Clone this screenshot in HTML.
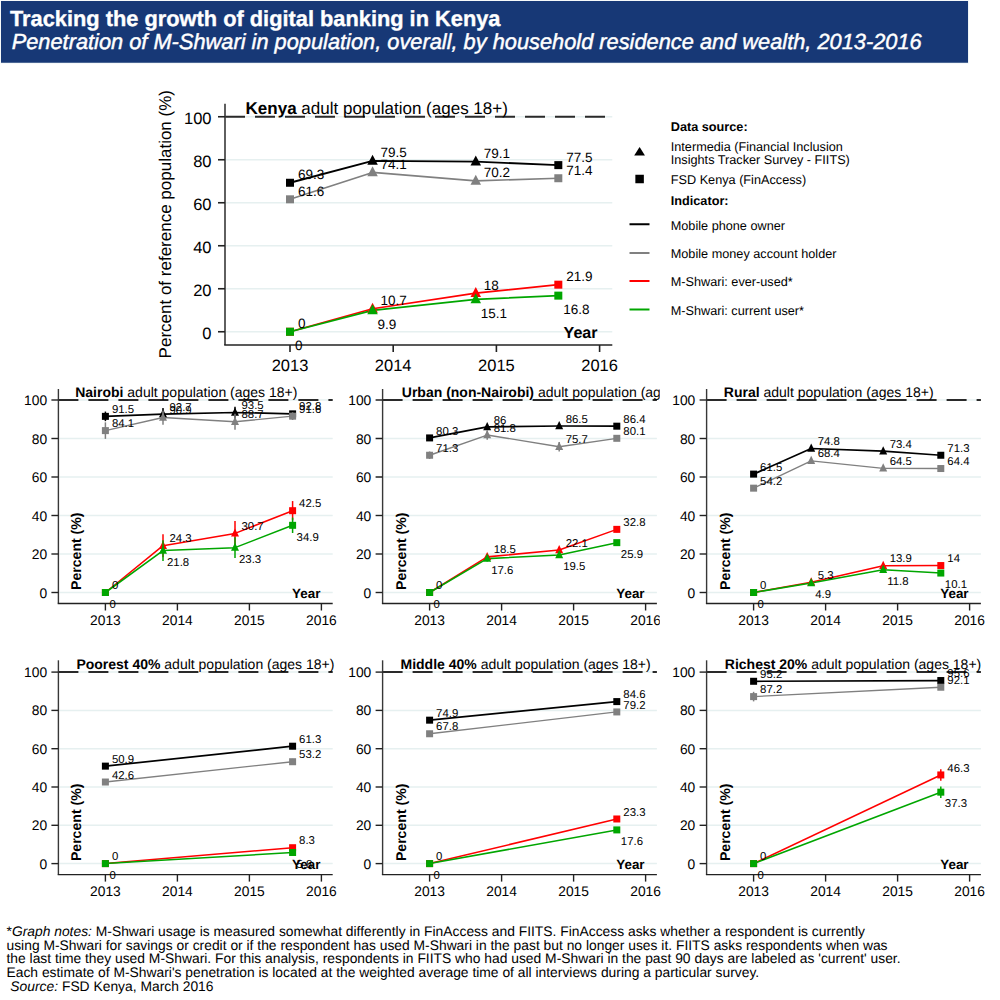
<!DOCTYPE html>
<html><head><meta charset="utf-8"><style>
html,body{margin:0;padding:0;background:#fff;width:1000px;height:1000px;overflow:hidden}
svg{display:block}
text{font-family:"Liberation Sans", sans-serif;text-rendering:geometricPrecision}
</style></head><body>
<svg width="1000" height="1000" viewBox="0 0 1000 1000">
<defs>
<clipPath id="c1"><rect x="0" y="370" width="335" height="270"/></clipPath>
<clipPath id="c2"><rect x="340" y="370" width="319.8" height="270"/></clipPath>
<clipPath id="c3"><rect x="661" y="370" width="339" height="270"/></clipPath>
</defs>

<rect x="0.5" y="0.5" width="968.5" height="63" fill="#eef4f6"/>
<rect x="1" y="1" width="967" height="61.75" fill="#173876"/>
<text x="10" y="26.2" font-size="21.8" font-weight="bold" fill="#fff" stroke="#fff" stroke-width="0.35">Tracking the growth of digital banking in Kenya</text>
<text x="11.7" y="49" font-size="21.8" font-style="italic" fill="#fff" stroke="#fff" stroke-width="0.45">Penetration of M-Shwari in population, overall, by household residence and wealth, 2013-2016</text>

<g><line x1="226" y1="331.75" x2="612.30" y2="331.75" stroke="#e6f0f0" stroke-width="1.5"/>
<line x1="226" y1="288.75" x2="612.30" y2="288.75" stroke="#e6f0f0" stroke-width="1.5"/>
<line x1="226" y1="245.75" x2="612.30" y2="245.75" stroke="#e6f0f0" stroke-width="1.5"/>
<line x1="226" y1="202.75" x2="612.30" y2="202.75" stroke="#e6f0f0" stroke-width="1.5"/>
<line x1="226" y1="159.75" x2="612.30" y2="159.75" stroke="#e6f0f0" stroke-width="1.5"/>
<line x1="226" y1="116.75" x2="612.30" y2="116.75" stroke="#e6f0f0" stroke-width="1.5"/>
<line x1="225" y1="116.75" x2="612.30" y2="116.75" stroke="#2a2a2a" stroke-width="2" stroke-dasharray="20 10"/>
<text x="245.60" y="114.00" font-size="17"><tspan font-weight="bold">Kenya</tspan> adult population (ages 18+)</text>
<line x1="225.00" y1="103.75" x2="225.00" y2="345.00" stroke="#383838" stroke-width="1.6"/>
<line x1="224.20" y1="345.00" x2="612.30" y2="345.00" stroke="#222" stroke-width="1.6"/>
<line x1="218.00" y1="331.75" x2="225.00" y2="331.75" stroke="#222" stroke-width="1.6"/>
<text x="211.50" y="338.55" font-size="16.5" text-anchor="end">0</text>
<line x1="218.00" y1="288.75" x2="225.00" y2="288.75" stroke="#222" stroke-width="1.6"/>
<text x="211.50" y="295.55" font-size="16.5" text-anchor="end">20</text>
<line x1="218.00" y1="245.75" x2="225.00" y2="245.75" stroke="#222" stroke-width="1.6"/>
<text x="211.50" y="252.55" font-size="16.5" text-anchor="end">40</text>
<line x1="218.00" y1="202.75" x2="225.00" y2="202.75" stroke="#222" stroke-width="1.6"/>
<text x="211.50" y="209.55" font-size="16.5" text-anchor="end">60</text>
<line x1="218.00" y1="159.75" x2="225.00" y2="159.75" stroke="#222" stroke-width="1.6"/>
<text x="211.50" y="166.55" font-size="16.5" text-anchor="end">80</text>
<line x1="218.00" y1="116.75" x2="225.00" y2="116.75" stroke="#222" stroke-width="1.6"/>
<text x="211.50" y="123.55" font-size="16.5" text-anchor="end">100</text>
<line x1="290.00" y1="345.00" x2="290.00" y2="352.00" stroke="#222" stroke-width="1.6"/>
<text x="290.00" y="371.20" font-size="16.5" text-anchor="middle">2013</text>
<line x1="393.20" y1="345.00" x2="393.20" y2="352.00" stroke="#222" stroke-width="1.6"/>
<text x="393.20" y="371.20" font-size="16.5" text-anchor="middle">2014</text>
<line x1="496.40" y1="345.00" x2="496.40" y2="352.00" stroke="#222" stroke-width="1.6"/>
<text x="496.40" y="371.20" font-size="16.5" text-anchor="middle">2015</text>
<line x1="599.60" y1="345.00" x2="599.60" y2="352.00" stroke="#222" stroke-width="1.6"/>
<text x="599.60" y="371.20" font-size="16.5" text-anchor="middle">2016</text>
<text x="597.60" y="338.20" font-size="16.1" text-anchor="end" font-weight="bold">Year</text>
<text transform="translate(170.60,358.40) rotate(-90)" font-size="17">Percent of reference population (%)</text>
<polyline points="290.00,182.76 372.56,160.83 475.76,161.69 558.32,165.12" fill="none" stroke="#000" stroke-width="1.85" stroke-linejoin="round"/>
<polyline points="290.00,199.31 372.56,172.44 475.76,180.82 558.32,178.24" fill="none" stroke="#808080" stroke-width="1.7" stroke-linejoin="round"/>
<polyline points="290.00,331.75 372.56,308.75 475.76,293.05 558.32,284.67" fill="none" stroke="#ff0000" stroke-width="1.75" stroke-linejoin="round"/>
<polyline points="290.00,331.75 372.56,310.46 475.76,299.29 558.32,295.63" fill="none" stroke="#00a600" stroke-width="1.75" stroke-linejoin="round"/>
<rect x="286.00" y="178.76" width="8.00" height="8.00" fill="#000"/>
<polygon points="367.31,164.73 377.81,164.73 372.56,154.73" fill="#000"/>
<polygon points="470.51,165.59 481.01,165.59 475.76,155.59" fill="#000"/>
<rect x="554.32" y="161.12" width="8.00" height="8.00" fill="#000"/>
<rect x="286.00" y="195.31" width="8.00" height="8.00" fill="#808080"/>
<polygon points="367.31,176.34 377.81,176.34 372.56,166.34" fill="#808080"/>
<polygon points="470.51,184.72 481.01,184.72 475.76,174.72" fill="#808080"/>
<rect x="554.32" y="174.24" width="8.00" height="8.00" fill="#808080"/>
<rect x="286.00" y="327.75" width="8.00" height="8.00" fill="#ff0000"/>
<polygon points="367.31,312.64 377.81,312.64 372.56,302.64" fill="#ff0000"/>
<polygon points="470.51,296.95 481.01,296.95 475.76,286.95" fill="#ff0000"/>
<rect x="554.32" y="280.67" width="8.00" height="8.00" fill="#ff0000"/>
<rect x="286.00" y="327.75" width="8.00" height="8.00" fill="#00a600"/>
<polygon points="367.31,314.36 377.81,314.36 372.56,304.36" fill="#00a600"/>
<polygon points="470.51,303.19 481.01,303.19 475.76,293.19" fill="#00a600"/>
<rect x="554.32" y="291.63" width="8.00" height="8.00" fill="#00a600"/>
<text x="298.00" y="179.26" font-size="13.5">69.3</text>
<text x="380.56" y="157.33" font-size="13.5">79.5</text>
<text x="483.76" y="158.19" font-size="13.5">79.1</text>
<text x="566.32" y="161.62" font-size="13.5">77.5</text>
<text x="298.00" y="195.81" font-size="13.5">61.6</text>
<text x="380.56" y="168.94" font-size="13.5">74.1</text>
<text x="483.76" y="177.32" font-size="13.5">70.2</text>
<text x="566.32" y="174.74" font-size="13.5">71.4</text>
<text x="298.00" y="328.25" font-size="13.5">0</text>
<text x="380.56" y="305.25" font-size="13.5">10.7</text>
<text x="483.76" y="289.55" font-size="13.5">18</text>
<text x="566.32" y="281.17" font-size="13.5">21.9</text>
<text x="295.00" y="350.25" font-size="13.5">0</text>
<text x="377.56" y="328.96" font-size="13.5">9.9</text>
<text x="480.76" y="317.79" font-size="13.5">15.1</text>
<text x="563.32" y="314.13" font-size="13.5">16.8</text></g>

<text x="670.75" y="130.5" font-size="12.7" font-weight="bold">Data source:</text>
<polygon points="634.2,155.5 644.95,155.5 639.6,147" fill="#000"/>
<text x="670.75" y="150.75" font-size="12.7">Intermedia (Financial Inclusion</text>
<text x="670.75" y="163.75" font-size="12.7">Insights Tracker Survey - FIITS)</text>
<rect x="635.35" y="174.75" width="8.50" height="8.50" fill="#000"/>
<text x="670.75" y="183.75" font-size="12.7">FSD Kenya (FinAccess)</text>
<text x="670.75" y="205" font-size="12.7" font-weight="bold">Indicator:</text>
<line x1="629.5" y1="224.25" x2="649.5" y2="224.25" stroke="#000" stroke-width="2"/>
<text x="670.75" y="230" font-size="12.7">Mobile phone owner</text>
<line x1="629.5" y1="253" x2="649.5" y2="253" stroke="#808080" stroke-width="2"/>
<text x="670.75" y="258" font-size="12.7">Mobile money account holder</text>
<line x1="629.5" y1="281" x2="649.5" y2="281" stroke="#ff0000" stroke-width="2"/>
<text x="670.75" y="285.5" font-size="12.7">M-Shwari: ever-used*</text>
<line x1="629.5" y1="309.5" x2="649.5" y2="309.5" stroke="#00a600" stroke-width="2"/>
<text x="670.75" y="314.5" font-size="12.7">M-Shwari: current user*</text>

<g><line x1="59.4" y1="592.50" x2="332.70" y2="592.50" stroke="#e6f0f0" stroke-width="1.5"/>
<line x1="59.4" y1="554.00" x2="332.70" y2="554.00" stroke="#e6f0f0" stroke-width="1.5"/>
<line x1="59.4" y1="515.50" x2="332.70" y2="515.50" stroke="#e6f0f0" stroke-width="1.5"/>
<line x1="59.4" y1="477.00" x2="332.70" y2="477.00" stroke="#e6f0f0" stroke-width="1.5"/>
<line x1="59.4" y1="438.50" x2="332.70" y2="438.50" stroke="#e6f0f0" stroke-width="1.5"/>
<line x1="59.4" y1="400.00" x2="332.70" y2="400.00" stroke="#e6f0f0" stroke-width="1.5"/>
<line x1="58.4" y1="400.00" x2="332.70" y2="400.00" stroke="#2a2a2a" stroke-width="2" stroke-dasharray="20 10"/>
<text x="75.20" y="396.80" font-size="14"><tspan font-weight="bold">Nairobi</tspan> adult population (ages 18+)</text>
<line x1="58.40" y1="389.00" x2="58.40" y2="603.50" stroke="#383838" stroke-width="1.4"/>
<line x1="57.70" y1="603.50" x2="332.70" y2="603.50" stroke="#222" stroke-width="1.4"/>
<line x1="51.40" y1="592.50" x2="58.40" y2="592.50" stroke="#222" stroke-width="1.4"/>
<text x="47.10" y="597.50" font-size="13.8" text-anchor="end">0</text>
<line x1="51.40" y1="554.00" x2="58.40" y2="554.00" stroke="#222" stroke-width="1.4"/>
<text x="47.10" y="559.00" font-size="13.8" text-anchor="end">20</text>
<line x1="51.40" y1="515.50" x2="58.40" y2="515.50" stroke="#222" stroke-width="1.4"/>
<text x="47.10" y="520.50" font-size="13.8" text-anchor="end">40</text>
<line x1="51.40" y1="477.00" x2="58.40" y2="477.00" stroke="#222" stroke-width="1.4"/>
<text x="47.10" y="482.00" font-size="13.8" text-anchor="end">60</text>
<line x1="51.40" y1="438.50" x2="58.40" y2="438.50" stroke="#222" stroke-width="1.4"/>
<text x="47.10" y="443.50" font-size="13.8" text-anchor="end">80</text>
<line x1="51.40" y1="400.00" x2="58.40" y2="400.00" stroke="#222" stroke-width="1.4"/>
<text x="47.10" y="405.00" font-size="13.8" text-anchor="end">100</text>
<line x1="105.40" y1="603.50" x2="105.40" y2="610.50" stroke="#222" stroke-width="1.4"/>
<text x="105.40" y="624.50" font-size="13.8" text-anchor="middle">2013</text>
<line x1="177.40" y1="603.50" x2="177.40" y2="610.50" stroke="#222" stroke-width="1.4"/>
<text x="177.40" y="624.50" font-size="13.8" text-anchor="middle">2014</text>
<line x1="249.40" y1="603.50" x2="249.40" y2="610.50" stroke="#222" stroke-width="1.4"/>
<text x="249.40" y="624.50" font-size="13.8" text-anchor="middle">2015</text>
<line x1="321.40" y1="603.50" x2="321.40" y2="610.50" stroke="#222" stroke-width="1.4"/>
<text x="321.40" y="624.50" font-size="13.8" text-anchor="middle">2016</text>
<text x="320.40" y="597.50" font-size="13.4" text-anchor="end" font-weight="bold">Year</text>
<text transform="translate(81.40,590.00) rotate(-90)" font-size="14.1" font-weight="bold">Percent (%)</text>
<polyline points="105.40,416.36 163.00,414.05 235.00,412.51 292.60,413.86" fill="none" stroke="#000" stroke-width="1.7" stroke-linejoin="round"/>
<polyline points="105.40,430.61 163.00,417.52 235.00,421.75 292.60,416.17" fill="none" stroke="#808080" stroke-width="1.35" stroke-linejoin="round"/>
<polyline points="105.40,592.50 163.00,545.72 235.00,533.40 292.60,510.69" fill="none" stroke="#ff0000" stroke-width="1.55" stroke-linejoin="round"/>
<polyline points="105.40,592.50 163.00,550.53 235.00,547.65 292.60,525.32" fill="none" stroke="#00a600" stroke-width="1.55" stroke-linejoin="round"/>
<line x1="105.40" y1="411.55" x2="105.40" y2="421.17" stroke="#000" stroke-width="1.5"/>
<rect x="101.90" y="412.86" width="7.00" height="7.00" fill="#000"/>
<line x1="163.00" y1="407.89" x2="163.00" y2="420.21" stroke="#000" stroke-width="1.5"/>
<polygon points="159.00,417.25 167.00,417.25 163.00,409.05" fill="#000"/>
<line x1="235.00" y1="406.74" x2="235.00" y2="418.29" stroke="#000" stroke-width="1.5"/>
<polygon points="231.00,415.71 239.00,415.71 235.00,407.51" fill="#000"/>
<rect x="289.10" y="410.36" width="7.00" height="7.00" fill="#000"/>
<line x1="105.40" y1="422.33" x2="105.40" y2="438.88" stroke="#808080" stroke-width="1.5"/>
<rect x="101.90" y="427.11" width="7.00" height="7.00" fill="#808080"/>
<line x1="163.00" y1="410.39" x2="163.00" y2="424.64" stroke="#808080" stroke-width="1.5"/>
<polygon points="159.00,420.72 167.00,420.72 163.00,412.52" fill="#808080"/>
<line x1="235.00" y1="413.67" x2="235.00" y2="429.84" stroke="#808080" stroke-width="1.5"/>
<polygon points="231.00,424.95 239.00,424.95 235.00,416.75" fill="#808080"/>
<line x1="292.60" y1="412.32" x2="292.60" y2="420.02" stroke="#808080" stroke-width="1.5"/>
<rect x="289.10" y="412.67" width="7.00" height="7.00" fill="#808080"/>
<rect x="101.90" y="589.00" width="7.00" height="7.00" fill="#ff0000"/>
<line x1="163.00" y1="534.17" x2="163.00" y2="557.27" stroke="#ff0000" stroke-width="1.5"/>
<polygon points="159.00,548.92 167.00,548.92 163.00,540.72" fill="#ff0000"/>
<line x1="235.00" y1="521.08" x2="235.00" y2="545.72" stroke="#ff0000" stroke-width="1.5"/>
<polygon points="231.00,536.60 239.00,536.60 235.00,528.40" fill="#ff0000"/>
<line x1="292.60" y1="501.06" x2="292.60" y2="520.31" stroke="#ff0000" stroke-width="1.5"/>
<rect x="289.10" y="507.19" width="7.00" height="7.00" fill="#ff0000"/>
<rect x="101.90" y="589.00" width="7.00" height="7.00" fill="#00a600"/>
<line x1="163.00" y1="540.14" x2="163.00" y2="560.93" stroke="#00a600" stroke-width="1.5"/>
<polygon points="159.00,553.73 167.00,553.73 163.00,545.53" fill="#00a600"/>
<line x1="235.00" y1="537.25" x2="235.00" y2="558.04" stroke="#00a600" stroke-width="1.5"/>
<polygon points="231.00,550.85 239.00,550.85 235.00,542.65" fill="#00a600"/>
<line x1="292.60" y1="517.62" x2="292.60" y2="533.02" stroke="#00a600" stroke-width="1.5"/>
<rect x="289.10" y="521.82" width="7.00" height="7.00" fill="#00a600"/>
<text x="111.90" y="412.96" font-size="11.4">91.5</text>
<text x="169.50" y="410.65" font-size="11.4">92.7</text>
<text x="241.50" y="409.11" font-size="11.4">93.5</text>
<text x="299.10" y="410.46" font-size="11.4">92.8</text>
<text x="111.90" y="427.21" font-size="11.4">84.1</text>
<text x="169.50" y="414.12" font-size="11.4">90.9</text>
<text x="241.50" y="418.35" font-size="11.4">88.7</text>
<text x="299.10" y="412.77" font-size="11.4">91.6</text>
<text x="111.90" y="589.10" font-size="11.4">0</text>
<text x="169.50" y="542.32" font-size="11.4">24.3</text>
<text x="241.50" y="530.00" font-size="11.4">30.7</text>
<text x="299.10" y="507.29" font-size="11.4">42.5</text>
<text x="109.40" y="607.80" font-size="11.4">0</text>
<text x="167.00" y="565.83" font-size="11.4">21.8</text>
<text x="239.00" y="562.95" font-size="11.4">23.3</text>
<text x="296.60" y="540.62" font-size="11.4">34.9</text></g>
<g clip-path="url(#c2)"><line x1="383.6" y1="592.50" x2="656.90" y2="592.50" stroke="#e6f0f0" stroke-width="1.5"/>
<line x1="383.6" y1="554.00" x2="656.90" y2="554.00" stroke="#e6f0f0" stroke-width="1.5"/>
<line x1="383.6" y1="515.50" x2="656.90" y2="515.50" stroke="#e6f0f0" stroke-width="1.5"/>
<line x1="383.6" y1="477.00" x2="656.90" y2="477.00" stroke="#e6f0f0" stroke-width="1.5"/>
<line x1="383.6" y1="438.50" x2="656.90" y2="438.50" stroke="#e6f0f0" stroke-width="1.5"/>
<line x1="383.6" y1="400.00" x2="656.90" y2="400.00" stroke="#e6f0f0" stroke-width="1.5"/>
<line x1="382.6" y1="400.00" x2="656.90" y2="400.00" stroke="#2a2a2a" stroke-width="2" stroke-dasharray="20 10"/>
<text x="401.80" y="396.80" font-size="14"><tspan font-weight="bold">Urban (non-Nairobi)</tspan> adult population (ages 18+)</text>
<line x1="382.60" y1="389.00" x2="382.60" y2="603.50" stroke="#383838" stroke-width="1.4"/>
<line x1="381.90" y1="603.50" x2="656.90" y2="603.50" stroke="#222" stroke-width="1.4"/>
<line x1="375.60" y1="592.50" x2="382.60" y2="592.50" stroke="#222" stroke-width="1.4"/>
<text x="371.30" y="597.50" font-size="13.8" text-anchor="end">0</text>
<line x1="375.60" y1="554.00" x2="382.60" y2="554.00" stroke="#222" stroke-width="1.4"/>
<text x="371.30" y="559.00" font-size="13.8" text-anchor="end">20</text>
<line x1="375.60" y1="515.50" x2="382.60" y2="515.50" stroke="#222" stroke-width="1.4"/>
<text x="371.30" y="520.50" font-size="13.8" text-anchor="end">40</text>
<line x1="375.60" y1="477.00" x2="382.60" y2="477.00" stroke="#222" stroke-width="1.4"/>
<text x="371.30" y="482.00" font-size="13.8" text-anchor="end">60</text>
<line x1="375.60" y1="438.50" x2="382.60" y2="438.50" stroke="#222" stroke-width="1.4"/>
<text x="371.30" y="443.50" font-size="13.8" text-anchor="end">80</text>
<line x1="375.60" y1="400.00" x2="382.60" y2="400.00" stroke="#222" stroke-width="1.4"/>
<text x="371.30" y="405.00" font-size="13.8" text-anchor="end">100</text>
<line x1="429.60" y1="603.50" x2="429.60" y2="610.50" stroke="#222" stroke-width="1.4"/>
<text x="429.60" y="624.50" font-size="13.8" text-anchor="middle">2013</text>
<line x1="501.60" y1="603.50" x2="501.60" y2="610.50" stroke="#222" stroke-width="1.4"/>
<text x="501.60" y="624.50" font-size="13.8" text-anchor="middle">2014</text>
<line x1="573.60" y1="603.50" x2="573.60" y2="610.50" stroke="#222" stroke-width="1.4"/>
<text x="573.60" y="624.50" font-size="13.8" text-anchor="middle">2015</text>
<line x1="645.60" y1="603.50" x2="645.60" y2="610.50" stroke="#222" stroke-width="1.4"/>
<text x="645.60" y="624.50" font-size="13.8" text-anchor="middle">2016</text>
<text x="644.60" y="597.50" font-size="13.4" text-anchor="end" font-weight="bold">Year</text>
<text transform="translate(405.60,590.00) rotate(-90)" font-size="14.1" font-weight="bold">Percent (%)</text>
<polyline points="429.60,437.92 487.20,426.95 559.20,425.99 616.80,426.18" fill="none" stroke="#000" stroke-width="1.7" stroke-linejoin="round"/>
<polyline points="429.60,455.25 487.20,435.03 559.20,446.78 616.80,438.31" fill="none" stroke="#808080" stroke-width="1.35" stroke-linejoin="round"/>
<polyline points="429.60,592.50 487.20,556.89 559.20,549.96 616.80,529.36" fill="none" stroke="#ff0000" stroke-width="1.55" stroke-linejoin="round"/>
<polyline points="429.60,592.50 487.20,558.62 559.20,554.96 616.80,542.64" fill="none" stroke="#00a600" stroke-width="1.55" stroke-linejoin="round"/>
<line x1="429.60" y1="435.04" x2="429.60" y2="440.81" stroke="#000" stroke-width="1.5"/>
<rect x="426.10" y="434.42" width="7.00" height="7.00" fill="#000"/>
<line x1="487.20" y1="425.02" x2="487.20" y2="428.88" stroke="#000" stroke-width="1.5"/>
<polygon points="483.20,430.15 491.20,430.15 487.20,421.95" fill="#000"/>
<line x1="559.20" y1="424.06" x2="559.20" y2="427.91" stroke="#000" stroke-width="1.5"/>
<polygon points="555.20,429.19 563.20,429.19 559.20,420.99" fill="#000"/>
<line x1="616.80" y1="424.64" x2="616.80" y2="427.72" stroke="#000" stroke-width="1.5"/>
<rect x="613.30" y="422.68" width="7.00" height="7.00" fill="#000"/>
<line x1="429.60" y1="451.40" x2="429.60" y2="459.10" stroke="#808080" stroke-width="1.5"/>
<rect x="426.10" y="451.75" width="7.00" height="7.00" fill="#808080"/>
<line x1="487.20" y1="430.22" x2="487.20" y2="439.85" stroke="#808080" stroke-width="1.5"/>
<polygon points="483.20,438.23 491.20,438.23 487.20,430.03" fill="#808080"/>
<line x1="559.20" y1="441.97" x2="559.20" y2="451.59" stroke="#808080" stroke-width="1.5"/>
<polygon points="555.20,449.98 563.20,449.98 559.20,441.78" fill="#808080"/>
<rect x="613.30" y="434.81" width="7.00" height="7.00" fill="#808080"/>
<rect x="426.10" y="589.00" width="7.00" height="7.00" fill="#ff0000"/>
<line x1="487.20" y1="554.00" x2="487.20" y2="559.78" stroke="#ff0000" stroke-width="1.5"/>
<polygon points="483.20,560.09 491.20,560.09 487.20,551.89" fill="#ff0000"/>
<line x1="559.20" y1="547.07" x2="559.20" y2="552.85" stroke="#ff0000" stroke-width="1.5"/>
<polygon points="555.20,553.16 563.20,553.16 559.20,544.96" fill="#ff0000"/>
<line x1="616.80" y1="526.47" x2="616.80" y2="532.25" stroke="#ff0000" stroke-width="1.5"/>
<rect x="613.30" y="525.86" width="7.00" height="7.00" fill="#ff0000"/>
<rect x="426.10" y="589.00" width="7.00" height="7.00" fill="#00a600"/>
<line x1="487.20" y1="555.73" x2="487.20" y2="561.51" stroke="#00a600" stroke-width="1.5"/>
<polygon points="483.20,561.82 491.20,561.82 487.20,553.62" fill="#00a600"/>
<line x1="559.20" y1="552.07" x2="559.20" y2="557.85" stroke="#00a600" stroke-width="1.5"/>
<polygon points="555.20,558.16 563.20,558.16 559.20,549.96" fill="#00a600"/>
<line x1="616.80" y1="540.33" x2="616.80" y2="544.95" stroke="#00a600" stroke-width="1.5"/>
<rect x="613.30" y="539.14" width="7.00" height="7.00" fill="#00a600"/>
<text x="436.10" y="434.52" font-size="11.4">80.3</text>
<text x="493.70" y="423.55" font-size="11.4">86</text>
<text x="565.70" y="422.59" font-size="11.4">86.5</text>
<text x="623.30" y="422.78" font-size="11.4">86.4</text>
<text x="436.10" y="451.85" font-size="11.4">71.3</text>
<text x="493.70" y="431.63" font-size="11.4">81.8</text>
<text x="565.70" y="443.38" font-size="11.4">75.7</text>
<text x="623.30" y="434.91" font-size="11.4">80.1</text>
<text x="436.10" y="589.10" font-size="11.4">0</text>
<text x="493.70" y="553.49" font-size="11.4">18.5</text>
<text x="565.70" y="546.56" font-size="11.4">22.1</text>
<text x="623.30" y="525.96" font-size="11.4">32.8</text>
<text x="433.60" y="607.80" font-size="11.4">0</text>
<text x="491.20" y="573.92" font-size="11.4">17.6</text>
<text x="563.20" y="570.26" font-size="11.4">19.5</text>
<text x="620.80" y="557.94" font-size="11.4">25.9</text></g>
<g><line x1="707.6" y1="592.50" x2="980.90" y2="592.50" stroke="#e6f0f0" stroke-width="1.5"/>
<line x1="707.6" y1="554.00" x2="980.90" y2="554.00" stroke="#e6f0f0" stroke-width="1.5"/>
<line x1="707.6" y1="515.50" x2="980.90" y2="515.50" stroke="#e6f0f0" stroke-width="1.5"/>
<line x1="707.6" y1="477.00" x2="980.90" y2="477.00" stroke="#e6f0f0" stroke-width="1.5"/>
<line x1="707.6" y1="438.50" x2="980.90" y2="438.50" stroke="#e6f0f0" stroke-width="1.5"/>
<line x1="707.6" y1="400.00" x2="980.90" y2="400.00" stroke="#e6f0f0" stroke-width="1.5"/>
<line x1="706.6" y1="400.00" x2="980.90" y2="400.00" stroke="#2a2a2a" stroke-width="2" stroke-dasharray="20 10"/>
<text x="723.80" y="396.80" font-size="14"><tspan font-weight="bold">Rural</tspan> adult population (ages 18+)</text>
<line x1="706.60" y1="389.00" x2="706.60" y2="603.50" stroke="#383838" stroke-width="1.4"/>
<line x1="705.90" y1="603.50" x2="980.90" y2="603.50" stroke="#222" stroke-width="1.4"/>
<line x1="699.60" y1="592.50" x2="706.60" y2="592.50" stroke="#222" stroke-width="1.4"/>
<text x="695.30" y="597.50" font-size="13.8" text-anchor="end">0</text>
<line x1="699.60" y1="554.00" x2="706.60" y2="554.00" stroke="#222" stroke-width="1.4"/>
<text x="695.30" y="559.00" font-size="13.8" text-anchor="end">20</text>
<line x1="699.60" y1="515.50" x2="706.60" y2="515.50" stroke="#222" stroke-width="1.4"/>
<text x="695.30" y="520.50" font-size="13.8" text-anchor="end">40</text>
<line x1="699.60" y1="477.00" x2="706.60" y2="477.00" stroke="#222" stroke-width="1.4"/>
<text x="695.30" y="482.00" font-size="13.8" text-anchor="end">60</text>
<line x1="699.60" y1="438.50" x2="706.60" y2="438.50" stroke="#222" stroke-width="1.4"/>
<text x="695.30" y="443.50" font-size="13.8" text-anchor="end">80</text>
<line x1="699.60" y1="400.00" x2="706.60" y2="400.00" stroke="#222" stroke-width="1.4"/>
<text x="695.30" y="405.00" font-size="13.8" text-anchor="end">100</text>
<line x1="753.60" y1="603.50" x2="753.60" y2="610.50" stroke="#222" stroke-width="1.4"/>
<text x="753.60" y="624.50" font-size="13.8" text-anchor="middle">2013</text>
<line x1="825.60" y1="603.50" x2="825.60" y2="610.50" stroke="#222" stroke-width="1.4"/>
<text x="825.60" y="624.50" font-size="13.8" text-anchor="middle">2014</text>
<line x1="897.60" y1="603.50" x2="897.60" y2="610.50" stroke="#222" stroke-width="1.4"/>
<text x="897.60" y="624.50" font-size="13.8" text-anchor="middle">2015</text>
<line x1="969.60" y1="603.50" x2="969.60" y2="610.50" stroke="#222" stroke-width="1.4"/>
<text x="969.60" y="624.50" font-size="13.8" text-anchor="middle">2016</text>
<text x="968.60" y="597.50" font-size="13.4" text-anchor="end" font-weight="bold">Year</text>
<text transform="translate(729.60,590.00) rotate(-90)" font-size="14.1" font-weight="bold">Percent (%)</text>
<polyline points="753.60,474.11 811.20,448.51 883.20,451.20 940.80,455.25" fill="none" stroke="#000" stroke-width="1.7" stroke-linejoin="round"/>
<polyline points="753.60,488.16 811.20,460.83 883.20,468.34 940.80,468.53" fill="none" stroke="#808080" stroke-width="1.35" stroke-linejoin="round"/>
<polyline points="753.60,592.50 811.20,582.30 883.20,565.74 940.80,565.55" fill="none" stroke="#ff0000" stroke-width="1.55" stroke-linejoin="round"/>
<polyline points="753.60,592.50 811.20,583.07 883.20,569.78 940.80,573.06" fill="none" stroke="#00a600" stroke-width="1.55" stroke-linejoin="round"/>
<line x1="753.60" y1="472.57" x2="753.60" y2="475.65" stroke="#000" stroke-width="1.5"/>
<rect x="750.10" y="470.61" width="7.00" height="7.00" fill="#000"/>
<line x1="811.20" y1="446.20" x2="811.20" y2="450.82" stroke="#000" stroke-width="1.5"/>
<polygon points="807.20,451.71 815.20,451.71 811.20,443.51" fill="#000"/>
<line x1="883.20" y1="448.89" x2="883.20" y2="453.51" stroke="#000" stroke-width="1.5"/>
<polygon points="879.20,454.40 887.20,454.40 883.20,446.20" fill="#000"/>
<line x1="940.80" y1="453.71" x2="940.80" y2="456.79" stroke="#000" stroke-width="1.5"/>
<rect x="937.30" y="451.75" width="7.00" height="7.00" fill="#000"/>
<line x1="753.60" y1="486.62" x2="753.60" y2="489.70" stroke="#808080" stroke-width="1.5"/>
<rect x="750.10" y="484.66" width="7.00" height="7.00" fill="#808080"/>
<line x1="811.20" y1="458.52" x2="811.20" y2="463.14" stroke="#808080" stroke-width="1.5"/>
<polygon points="807.20,464.03 815.20,464.03 811.20,455.83" fill="#808080"/>
<line x1="883.20" y1="466.03" x2="883.20" y2="470.65" stroke="#808080" stroke-width="1.5"/>
<polygon points="879.20,471.54 887.20,471.54 883.20,463.34" fill="#808080"/>
<line x1="940.80" y1="466.99" x2="940.80" y2="470.07" stroke="#808080" stroke-width="1.5"/>
<rect x="937.30" y="465.03" width="7.00" height="7.00" fill="#808080"/>
<rect x="750.10" y="589.00" width="7.00" height="7.00" fill="#ff0000"/>
<polygon points="807.20,585.50 815.20,585.50 811.20,577.30" fill="#ff0000"/>
<polygon points="879.20,568.94 887.20,568.94 883.20,560.74" fill="#ff0000"/>
<rect x="937.30" y="562.05" width="7.00" height="7.00" fill="#ff0000"/>
<rect x="750.10" y="589.00" width="7.00" height="7.00" fill="#00a600"/>
<polygon points="807.20,586.27 815.20,586.27 811.20,578.07" fill="#00a600"/>
<polygon points="879.20,572.98 887.20,572.98 883.20,564.78" fill="#00a600"/>
<rect x="937.30" y="569.56" width="7.00" height="7.00" fill="#00a600"/>
<text x="760.10" y="470.71" font-size="11.4">61.5</text>
<text x="817.70" y="445.11" font-size="11.4">74.8</text>
<text x="889.70" y="447.81" font-size="11.4">73.4</text>
<text x="947.30" y="451.85" font-size="11.4">71.3</text>
<text x="760.10" y="484.76" font-size="11.4">54.2</text>
<text x="817.70" y="457.43" font-size="11.4">68.4</text>
<text x="889.70" y="464.94" font-size="11.4">64.5</text>
<text x="947.30" y="465.13" font-size="11.4">64.4</text>
<text x="760.10" y="589.10" font-size="11.4">0</text>
<text x="817.70" y="578.90" font-size="11.4">5.3</text>
<text x="889.70" y="562.34" font-size="11.4">13.9</text>
<text x="947.30" y="562.15" font-size="11.4">14</text>
<text x="757.60" y="607.80" font-size="11.4">0</text>
<text x="815.20" y="598.37" font-size="11.4">4.9</text>
<text x="887.20" y="585.08" font-size="11.4">11.8</text>
<text x="944.80" y="588.36" font-size="11.4">10.1</text></g>
<g><line x1="59.4" y1="863.60" x2="332.70" y2="863.60" stroke="#e6f0f0" stroke-width="1.5"/>
<line x1="59.4" y1="825.30" x2="332.70" y2="825.30" stroke="#e6f0f0" stroke-width="1.5"/>
<line x1="59.4" y1="787.00" x2="332.70" y2="787.00" stroke="#e6f0f0" stroke-width="1.5"/>
<line x1="59.4" y1="748.70" x2="332.70" y2="748.70" stroke="#e6f0f0" stroke-width="1.5"/>
<line x1="59.4" y1="710.40" x2="332.70" y2="710.40" stroke="#e6f0f0" stroke-width="1.5"/>
<line x1="59.4" y1="672.10" x2="332.70" y2="672.10" stroke="#e6f0f0" stroke-width="1.5"/>
<line x1="58.4" y1="672.10" x2="332.70" y2="672.10" stroke="#2a2a2a" stroke-width="2" stroke-dasharray="20 10"/>
<text x="76.40" y="668.60" font-size="14"><tspan font-weight="bold">Poorest 40%</tspan> adult population (ages 18+)</text>
<line x1="58.40" y1="660.30" x2="58.40" y2="874.60" stroke="#383838" stroke-width="1.4"/>
<line x1="57.70" y1="874.60" x2="332.70" y2="874.60" stroke="#222" stroke-width="1.4"/>
<line x1="51.40" y1="863.60" x2="58.40" y2="863.60" stroke="#222" stroke-width="1.4"/>
<text x="47.10" y="868.60" font-size="13.8" text-anchor="end">0</text>
<line x1="51.40" y1="825.30" x2="58.40" y2="825.30" stroke="#222" stroke-width="1.4"/>
<text x="47.10" y="830.30" font-size="13.8" text-anchor="end">20</text>
<line x1="51.40" y1="787.00" x2="58.40" y2="787.00" stroke="#222" stroke-width="1.4"/>
<text x="47.10" y="792.00" font-size="13.8" text-anchor="end">40</text>
<line x1="51.40" y1="748.70" x2="58.40" y2="748.70" stroke="#222" stroke-width="1.4"/>
<text x="47.10" y="753.70" font-size="13.8" text-anchor="end">60</text>
<line x1="51.40" y1="710.40" x2="58.40" y2="710.40" stroke="#222" stroke-width="1.4"/>
<text x="47.10" y="715.40" font-size="13.8" text-anchor="end">80</text>
<line x1="51.40" y1="672.10" x2="58.40" y2="672.10" stroke="#222" stroke-width="1.4"/>
<text x="47.10" y="677.10" font-size="13.8" text-anchor="end">100</text>
<line x1="105.40" y1="874.60" x2="105.40" y2="881.60" stroke="#222" stroke-width="1.4"/>
<text x="105.40" y="895.60" font-size="13.8" text-anchor="middle">2013</text>
<line x1="177.40" y1="874.60" x2="177.40" y2="881.60" stroke="#222" stroke-width="1.4"/>
<text x="177.40" y="895.60" font-size="13.8" text-anchor="middle">2014</text>
<line x1="249.40" y1="874.60" x2="249.40" y2="881.60" stroke="#222" stroke-width="1.4"/>
<text x="249.40" y="895.60" font-size="13.8" text-anchor="middle">2015</text>
<line x1="321.40" y1="874.60" x2="321.40" y2="881.60" stroke="#222" stroke-width="1.4"/>
<text x="321.40" y="895.60" font-size="13.8" text-anchor="middle">2016</text>
<text x="320.40" y="868.60" font-size="13.4" text-anchor="end" font-weight="bold">Year</text>
<text transform="translate(81.40,861.10) rotate(-90)" font-size="14.1" font-weight="bold">Percent (%)</text>
<polyline points="105.40,766.13 292.60,746.21" fill="none" stroke="#000" stroke-width="1.7" stroke-linejoin="round"/>
<polyline points="105.40,782.02 292.60,761.72" fill="none" stroke="#808080" stroke-width="1.35" stroke-linejoin="round"/>
<polyline points="105.40,863.60 292.60,847.71" fill="none" stroke="#ff0000" stroke-width="1.55" stroke-linejoin="round"/>
<polyline points="105.40,863.60 292.60,852.49" fill="none" stroke="#00a600" stroke-width="1.55" stroke-linejoin="round"/>
<line x1="105.40" y1="763.25" x2="105.40" y2="769.00" stroke="#000" stroke-width="1.5"/>
<rect x="101.90" y="762.63" width="7.00" height="7.00" fill="#000"/>
<line x1="292.60" y1="743.34" x2="292.60" y2="749.08" stroke="#000" stroke-width="1.5"/>
<rect x="289.10" y="742.71" width="7.00" height="7.00" fill="#000"/>
<line x1="105.40" y1="779.15" x2="105.40" y2="784.89" stroke="#808080" stroke-width="1.5"/>
<rect x="101.90" y="778.52" width="7.00" height="7.00" fill="#808080"/>
<line x1="292.60" y1="758.85" x2="292.60" y2="764.59" stroke="#808080" stroke-width="1.5"/>
<rect x="289.10" y="758.22" width="7.00" height="7.00" fill="#808080"/>
<rect x="101.90" y="860.10" width="7.00" height="7.00" fill="#ff0000"/>
<rect x="289.10" y="844.21" width="7.00" height="7.00" fill="#ff0000"/>
<rect x="101.90" y="860.10" width="7.00" height="7.00" fill="#00a600"/>
<rect x="289.10" y="848.99" width="7.00" height="7.00" fill="#00a600"/>
<text x="111.90" y="762.73" font-size="11.4">50.9</text>
<text x="299.10" y="742.81" font-size="11.4">61.3</text>
<text x="111.90" y="778.62" font-size="11.4">42.6</text>
<text x="299.10" y="758.32" font-size="11.4">53.2</text>
<text x="111.90" y="860.20" font-size="11.4">0</text>
<text x="299.10" y="844.31" font-size="11.4">8.3</text>
<text x="109.40" y="878.90" font-size="11.4">0</text>
<text x="296.60" y="867.79" font-size="11.4">5.8</text></g>
<g><line x1="383.6" y1="863.60" x2="656.90" y2="863.60" stroke="#e6f0f0" stroke-width="1.5"/>
<line x1="383.6" y1="825.30" x2="656.90" y2="825.30" stroke="#e6f0f0" stroke-width="1.5"/>
<line x1="383.6" y1="787.00" x2="656.90" y2="787.00" stroke="#e6f0f0" stroke-width="1.5"/>
<line x1="383.6" y1="748.70" x2="656.90" y2="748.70" stroke="#e6f0f0" stroke-width="1.5"/>
<line x1="383.6" y1="710.40" x2="656.90" y2="710.40" stroke="#e6f0f0" stroke-width="1.5"/>
<line x1="383.6" y1="672.10" x2="656.90" y2="672.10" stroke="#e6f0f0" stroke-width="1.5"/>
<line x1="382.6" y1="672.10" x2="656.90" y2="672.10" stroke="#2a2a2a" stroke-width="2" stroke-dasharray="20 10"/>
<text x="400.50" y="668.60" font-size="14"><tspan font-weight="bold">Middle 40%</tspan> adult population (ages 18+)</text>
<line x1="382.60" y1="660.30" x2="382.60" y2="874.60" stroke="#383838" stroke-width="1.4"/>
<line x1="381.90" y1="874.60" x2="656.90" y2="874.60" stroke="#222" stroke-width="1.4"/>
<line x1="375.60" y1="863.60" x2="382.60" y2="863.60" stroke="#222" stroke-width="1.4"/>
<text x="371.30" y="868.60" font-size="13.8" text-anchor="end">0</text>
<line x1="375.60" y1="825.30" x2="382.60" y2="825.30" stroke="#222" stroke-width="1.4"/>
<text x="371.30" y="830.30" font-size="13.8" text-anchor="end">20</text>
<line x1="375.60" y1="787.00" x2="382.60" y2="787.00" stroke="#222" stroke-width="1.4"/>
<text x="371.30" y="792.00" font-size="13.8" text-anchor="end">40</text>
<line x1="375.60" y1="748.70" x2="382.60" y2="748.70" stroke="#222" stroke-width="1.4"/>
<text x="371.30" y="753.70" font-size="13.8" text-anchor="end">60</text>
<line x1="375.60" y1="710.40" x2="382.60" y2="710.40" stroke="#222" stroke-width="1.4"/>
<text x="371.30" y="715.40" font-size="13.8" text-anchor="end">80</text>
<line x1="375.60" y1="672.10" x2="382.60" y2="672.10" stroke="#222" stroke-width="1.4"/>
<text x="371.30" y="677.10" font-size="13.8" text-anchor="end">100</text>
<line x1="429.60" y1="874.60" x2="429.60" y2="881.60" stroke="#222" stroke-width="1.4"/>
<text x="429.60" y="895.60" font-size="13.8" text-anchor="middle">2013</text>
<line x1="501.60" y1="874.60" x2="501.60" y2="881.60" stroke="#222" stroke-width="1.4"/>
<text x="501.60" y="895.60" font-size="13.8" text-anchor="middle">2014</text>
<line x1="573.60" y1="874.60" x2="573.60" y2="881.60" stroke="#222" stroke-width="1.4"/>
<text x="573.60" y="895.60" font-size="13.8" text-anchor="middle">2015</text>
<line x1="645.60" y1="874.60" x2="645.60" y2="881.60" stroke="#222" stroke-width="1.4"/>
<text x="645.60" y="895.60" font-size="13.8" text-anchor="middle">2016</text>
<text x="644.60" y="868.60" font-size="13.4" text-anchor="end" font-weight="bold">Year</text>
<text transform="translate(405.60,861.10) rotate(-90)" font-size="14.1" font-weight="bold">Percent (%)</text>
<polyline points="429.60,720.17 616.80,701.59" fill="none" stroke="#000" stroke-width="1.7" stroke-linejoin="round"/>
<polyline points="429.60,733.76 616.80,711.93" fill="none" stroke="#808080" stroke-width="1.35" stroke-linejoin="round"/>
<polyline points="429.60,863.60 616.80,818.98" fill="none" stroke="#ff0000" stroke-width="1.55" stroke-linejoin="round"/>
<polyline points="429.60,863.60 616.80,829.90" fill="none" stroke="#00a600" stroke-width="1.55" stroke-linejoin="round"/>
<line x1="429.60" y1="717.29" x2="429.60" y2="723.04" stroke="#000" stroke-width="1.5"/>
<rect x="426.10" y="716.67" width="7.00" height="7.00" fill="#000"/>
<line x1="616.80" y1="699.68" x2="616.80" y2="703.51" stroke="#000" stroke-width="1.5"/>
<rect x="613.30" y="698.09" width="7.00" height="7.00" fill="#000"/>
<line x1="429.60" y1="730.89" x2="429.60" y2="736.64" stroke="#808080" stroke-width="1.5"/>
<rect x="426.10" y="730.26" width="7.00" height="7.00" fill="#808080"/>
<line x1="616.80" y1="710.02" x2="616.80" y2="713.85" stroke="#808080" stroke-width="1.5"/>
<rect x="613.30" y="708.43" width="7.00" height="7.00" fill="#808080"/>
<rect x="426.10" y="860.10" width="7.00" height="7.00" fill="#ff0000"/>
<rect x="613.30" y="815.48" width="7.00" height="7.00" fill="#ff0000"/>
<rect x="426.10" y="860.10" width="7.00" height="7.00" fill="#00a600"/>
<rect x="613.30" y="826.40" width="7.00" height="7.00" fill="#00a600"/>
<text x="436.10" y="716.77" font-size="11.4">74.9</text>
<text x="623.30" y="698.19" font-size="11.4">84.6</text>
<text x="436.10" y="730.36" font-size="11.4">67.8</text>
<text x="623.30" y="708.53" font-size="11.4">79.2</text>
<text x="436.10" y="860.20" font-size="11.4">0</text>
<text x="623.30" y="815.58" font-size="11.4">23.3</text>
<text x="433.60" y="878.90" font-size="11.4">0</text>
<text x="620.80" y="845.20" font-size="11.4">17.6</text></g>
<g><line x1="707.6" y1="863.60" x2="980.90" y2="863.60" stroke="#e6f0f0" stroke-width="1.5"/>
<line x1="707.6" y1="825.30" x2="980.90" y2="825.30" stroke="#e6f0f0" stroke-width="1.5"/>
<line x1="707.6" y1="787.00" x2="980.90" y2="787.00" stroke="#e6f0f0" stroke-width="1.5"/>
<line x1="707.6" y1="748.70" x2="980.90" y2="748.70" stroke="#e6f0f0" stroke-width="1.5"/>
<line x1="707.6" y1="710.40" x2="980.90" y2="710.40" stroke="#e6f0f0" stroke-width="1.5"/>
<line x1="707.6" y1="672.10" x2="980.90" y2="672.10" stroke="#e6f0f0" stroke-width="1.5"/>
<line x1="706.6" y1="672.10" x2="980.90" y2="672.10" stroke="#2a2a2a" stroke-width="2" stroke-dasharray="20 10"/>
<text x="724.80" y="668.60" font-size="14"><tspan font-weight="bold">Richest 20%</tspan> adult population (ages 18+)</text>
<line x1="706.60" y1="660.30" x2="706.60" y2="874.60" stroke="#383838" stroke-width="1.4"/>
<line x1="705.90" y1="874.60" x2="980.90" y2="874.60" stroke="#222" stroke-width="1.4"/>
<line x1="699.60" y1="863.60" x2="706.60" y2="863.60" stroke="#222" stroke-width="1.4"/>
<text x="695.30" y="868.60" font-size="13.8" text-anchor="end">0</text>
<line x1="699.60" y1="825.30" x2="706.60" y2="825.30" stroke="#222" stroke-width="1.4"/>
<text x="695.30" y="830.30" font-size="13.8" text-anchor="end">20</text>
<line x1="699.60" y1="787.00" x2="706.60" y2="787.00" stroke="#222" stroke-width="1.4"/>
<text x="695.30" y="792.00" font-size="13.8" text-anchor="end">40</text>
<line x1="699.60" y1="748.70" x2="706.60" y2="748.70" stroke="#222" stroke-width="1.4"/>
<text x="695.30" y="753.70" font-size="13.8" text-anchor="end">60</text>
<line x1="699.60" y1="710.40" x2="706.60" y2="710.40" stroke="#222" stroke-width="1.4"/>
<text x="695.30" y="715.40" font-size="13.8" text-anchor="end">80</text>
<line x1="699.60" y1="672.10" x2="706.60" y2="672.10" stroke="#222" stroke-width="1.4"/>
<text x="695.30" y="677.10" font-size="13.8" text-anchor="end">100</text>
<line x1="753.60" y1="874.60" x2="753.60" y2="881.60" stroke="#222" stroke-width="1.4"/>
<text x="753.60" y="895.60" font-size="13.8" text-anchor="middle">2013</text>
<line x1="825.60" y1="874.60" x2="825.60" y2="881.60" stroke="#222" stroke-width="1.4"/>
<text x="825.60" y="895.60" font-size="13.8" text-anchor="middle">2014</text>
<line x1="897.60" y1="874.60" x2="897.60" y2="881.60" stroke="#222" stroke-width="1.4"/>
<text x="897.60" y="895.60" font-size="13.8" text-anchor="middle">2015</text>
<line x1="969.60" y1="874.60" x2="969.60" y2="881.60" stroke="#222" stroke-width="1.4"/>
<text x="969.60" y="895.60" font-size="13.8" text-anchor="middle">2016</text>
<text x="968.60" y="868.60" font-size="13.4" text-anchor="end" font-weight="bold">Year</text>
<text transform="translate(729.60,861.10) rotate(-90)" font-size="14.1" font-weight="bold">Percent (%)</text>
<polyline points="753.60,681.29 940.80,680.53" fill="none" stroke="#000" stroke-width="1.7" stroke-linejoin="round"/>
<polyline points="753.60,696.61 940.80,687.23" fill="none" stroke="#808080" stroke-width="1.35" stroke-linejoin="round"/>
<polyline points="753.60,863.60 940.80,774.94" fill="none" stroke="#ff0000" stroke-width="1.55" stroke-linejoin="round"/>
<polyline points="753.60,863.60 940.80,792.17" fill="none" stroke="#00a600" stroke-width="1.55" stroke-linejoin="round"/>
<line x1="753.60" y1="679.38" x2="753.60" y2="683.21" stroke="#000" stroke-width="1.5"/>
<rect x="750.10" y="677.79" width="7.00" height="7.00" fill="#000"/>
<line x1="940.80" y1="678.61" x2="940.80" y2="682.44" stroke="#000" stroke-width="1.5"/>
<rect x="937.30" y="677.03" width="7.00" height="7.00" fill="#000"/>
<line x1="753.60" y1="691.82" x2="753.60" y2="701.40" stroke="#808080" stroke-width="1.5"/>
<rect x="750.10" y="693.11" width="7.00" height="7.00" fill="#808080"/>
<line x1="940.80" y1="684.36" x2="940.80" y2="690.10" stroke="#808080" stroke-width="1.5"/>
<rect x="937.30" y="683.73" width="7.00" height="7.00" fill="#808080"/>
<rect x="750.10" y="860.10" width="7.00" height="7.00" fill="#ff0000"/>
<line x1="940.80" y1="769.19" x2="940.80" y2="780.68" stroke="#ff0000" stroke-width="1.5"/>
<rect x="937.30" y="771.44" width="7.00" height="7.00" fill="#ff0000"/>
<rect x="750.10" y="860.10" width="7.00" height="7.00" fill="#00a600"/>
<line x1="940.80" y1="786.43" x2="940.80" y2="797.92" stroke="#00a600" stroke-width="1.5"/>
<rect x="937.30" y="788.67" width="7.00" height="7.00" fill="#00a600"/>
<text x="760.10" y="677.89" font-size="11.4">95.2</text>
<text x="947.30" y="677.13" font-size="11.4">95.6</text>
<text x="760.10" y="693.21" font-size="11.4">87.2</text>
<text x="947.30" y="683.83" font-size="11.4">92.1</text>
<text x="760.10" y="860.20" font-size="11.4">0</text>
<text x="947.30" y="771.54" font-size="11.4">46.3</text>
<text x="757.60" y="878.90" font-size="11.4">0</text>
<text x="944.80" y="807.47" font-size="11.4">37.3</text></g>

<text x="6.5" y="935.6" font-size="13.85">*<tspan font-style="italic">Graph notes:</tspan> M-Shwari usage is measured somewhat differently in FinAccess and FIITS. FinAccess asks whether a respondent is currently</text>
<text x="6.5" y="949.5" font-size="13.85">using M-Shwari for savings or credit or if the respondent has used M-Shwari in the past but no longer uses it. FIITS asks respondents when was</text>
<text x="6.5" y="963.4" font-size="13.85">the last time they used M-Shwari. For this analysis, respondents in FIITS who had used M-Shwari in the past 90 days are labeled as 'current' user.</text>
<text x="6.5" y="977.1" font-size="13.85">Each estimate of M-Shwari's penetration is located at the weighted average time of all interviews during a particular survey.</text>
<text x="6.5" y="990.8" font-size="13.85" xml:space="preserve"> <tspan font-style="italic">Source:</tspan> FSD Kenya, March 2016</text>

</svg>
</body></html>
